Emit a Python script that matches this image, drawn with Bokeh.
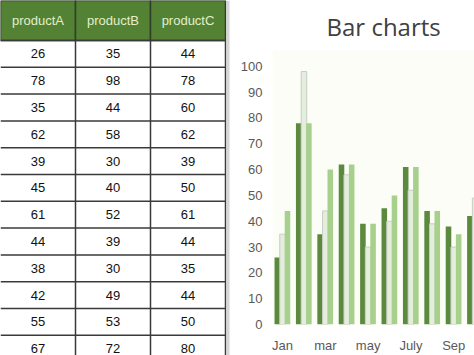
from bokeh.plotting import figure
from bokeh.layouts import row, column
from bokeh.models import Range1d, FixedTicker, ColumnDataSource
from bokeh.transform import dodge
from bokeh.core.properties import value
from bokeh.embed import file_html
from bokeh.resources import INLINE

# ---- data ----
months = ["Jan", "Feb", "mar", "apr", "may", "jun", "July", "aug", "Sep", "oct", "nov", "dec"]
productA = [26, 78, 35, 62, 39, 45, 61, 44, 38, 42, 55, 67]
productB = [35, 98, 44, 58, 30, 40, 52, 39, 30, 49, 53, 72]
productC = [44, 78, 60, 62, 39, 50, 61, 44, 35, 44, 50, 80]
headers = ["productA", "productB", "productC"]
y_ticks = [0, 10, 20, 30, 40, 50, 60, 70, 80, 90, 100]
title_text = "Bar charts"

# ---- table (left) ----
TW, H = 236, 355
col_w = 75.0
header_h = 40.0
row_h = 26.8
ncols = len(headers)

t = figure(width=TW, height=H, x_range=Range1d(0, TW), y_range=Range1d(H, 0),
           toolbar_location=None, output_backend="svg",
           x_axis_location=None, y_axis_location=None,
           min_border=0, min_border_left=0, min_border_right=0,
           min_border_top=0, min_border_bottom=0)
t.grid.visible = False
t.outline_line_color = None
t.background_fill_color = "white"
t.border_fill_color = "white"

# header cells
hl = [c * col_w for c in range(ncols)]
hr = [(c + 1) * col_w for c in range(ncols)]
t.quad(left=hl, right=hr, top=[0] * ncols, bottom=[header_h] * ncols,
       fill_color="#548235", line_color="#2F3F28", line_width=1.5)
t.text(x=[(c + 0.5) * col_w for c in range(ncols)], y=[header_h / 2] * ncols, text=headers,
       text_align="center", text_baseline="middle",
       text_font=value("Liberation Sans"), text_font_size="13px", text_color="#E2EFC9")

# body cells
cols = [productA, productB, productC]
cx, cy, ct = [], [], []
for r in range(len(productA)):
    for c in range(ncols):
        cx.append((c + 0.5) * col_w)
        cy.append(header_h + (r + 0.5) * row_h)
        ct.append(str(cols[c][r]))
t.text(x=cx, y=cy, text=ct, text_align="center", text_baseline="middle",
       text_font=value("Liberation Sans"), text_font_size="13px", text_color="#111111")

# grid lines of table
ys = [header_h + k * row_h for k in range(len(productA) + 1)]
t.segment(x0=[0] * len(ys), x1=[ncols * col_w] * len(ys), y0=ys, y1=ys,
          line_color="#3A3A3A", line_width=1.5)
xs = [(c + 1) * col_w for c in range(ncols)]
t.segment(x0=xs, x1=xs, y0=[header_h] * len(xs), y1=[H] * len(xs),
          line_color="#3A3A3A", line_width=1.5)
# soft shadow on the right of the table
t.segment(x0=[ncols * col_w + 2.5], x1=[ncols * col_w + 2.5], y0=[0], y1=[H],
          line_color="#D6D6D6", line_width=3)

# ---- chart (right) ----
CW = 474 - TW
src = ColumnDataSource(dict(x=list(range(len(months))), a=productA, b=productB, c=productC))

p = figure(width=CW, height=H, x_range=Range1d(-0.47, 8.97), y_range=Range1d(0, 106.15),
           toolbar_location=None, output_backend="svg",
           min_border_left=36, min_border_right=0, min_border_top=0, min_border_bottom=30)
p.grid.visible = False
p.outline_line_color = None
p.background_fill_color = "#FDFDF8"
p.border_fill_color = "white"

p.title.text = title_text
p.title.align = "left"
p.title.offset = 54
p.title.standoff = 15
p.title.text_font = "Open Sans"
p.title.text_font_style = "normal"
p.title.text_font_size = "24px"
p.title.text_color = "#404040"

bw = 0.26
p.vbar(x=dodge("x", -0.245, range=p.x_range), top="a", width=bw, source=src,
       fill_color="#5B8A3F", line_color=None)
p.vbar(x=dodge("x", 0.0, range=p.x_range), top="b", width=bw, source=src,
       fill_color="#E4EEDC", line_color="#C9CCC6", line_width=1)
p.vbar(x=dodge("x", 0.23, range=p.x_range), top="c", width=bw, source=src,
       fill_color="#A8D08D", line_color=None)

p.xaxis.ticker = FixedTicker(ticks=list(range(0, len(months), 2)))
p.xaxis.major_label_overrides = {i: months[i] for i in range(len(months))}
p.yaxis.ticker = FixedTicker(ticks=y_ticks)
for ax in (p.xaxis, p.yaxis):
    ax.axis_line_color = None
    ax.major_tick_line_color = None
    ax.minor_tick_line_color = None
    ax.major_tick_out = 0
    ax.major_tick_in = 0
    ax.minor_tick_out = 0
    ax.minor_tick_in = 0
    ax.major_label_text_font = "Liberation Sans"
    ax.major_label_text_font_size = "13px"
    ax.major_label_text_color = "#595959"
p.yaxis.major_label_standoff = 10
p.xaxis.major_label_standoff = 13

layout = row(column(t), column(p), spacing=0)
open("out.html", "w").write(file_html(layout, INLINE))
